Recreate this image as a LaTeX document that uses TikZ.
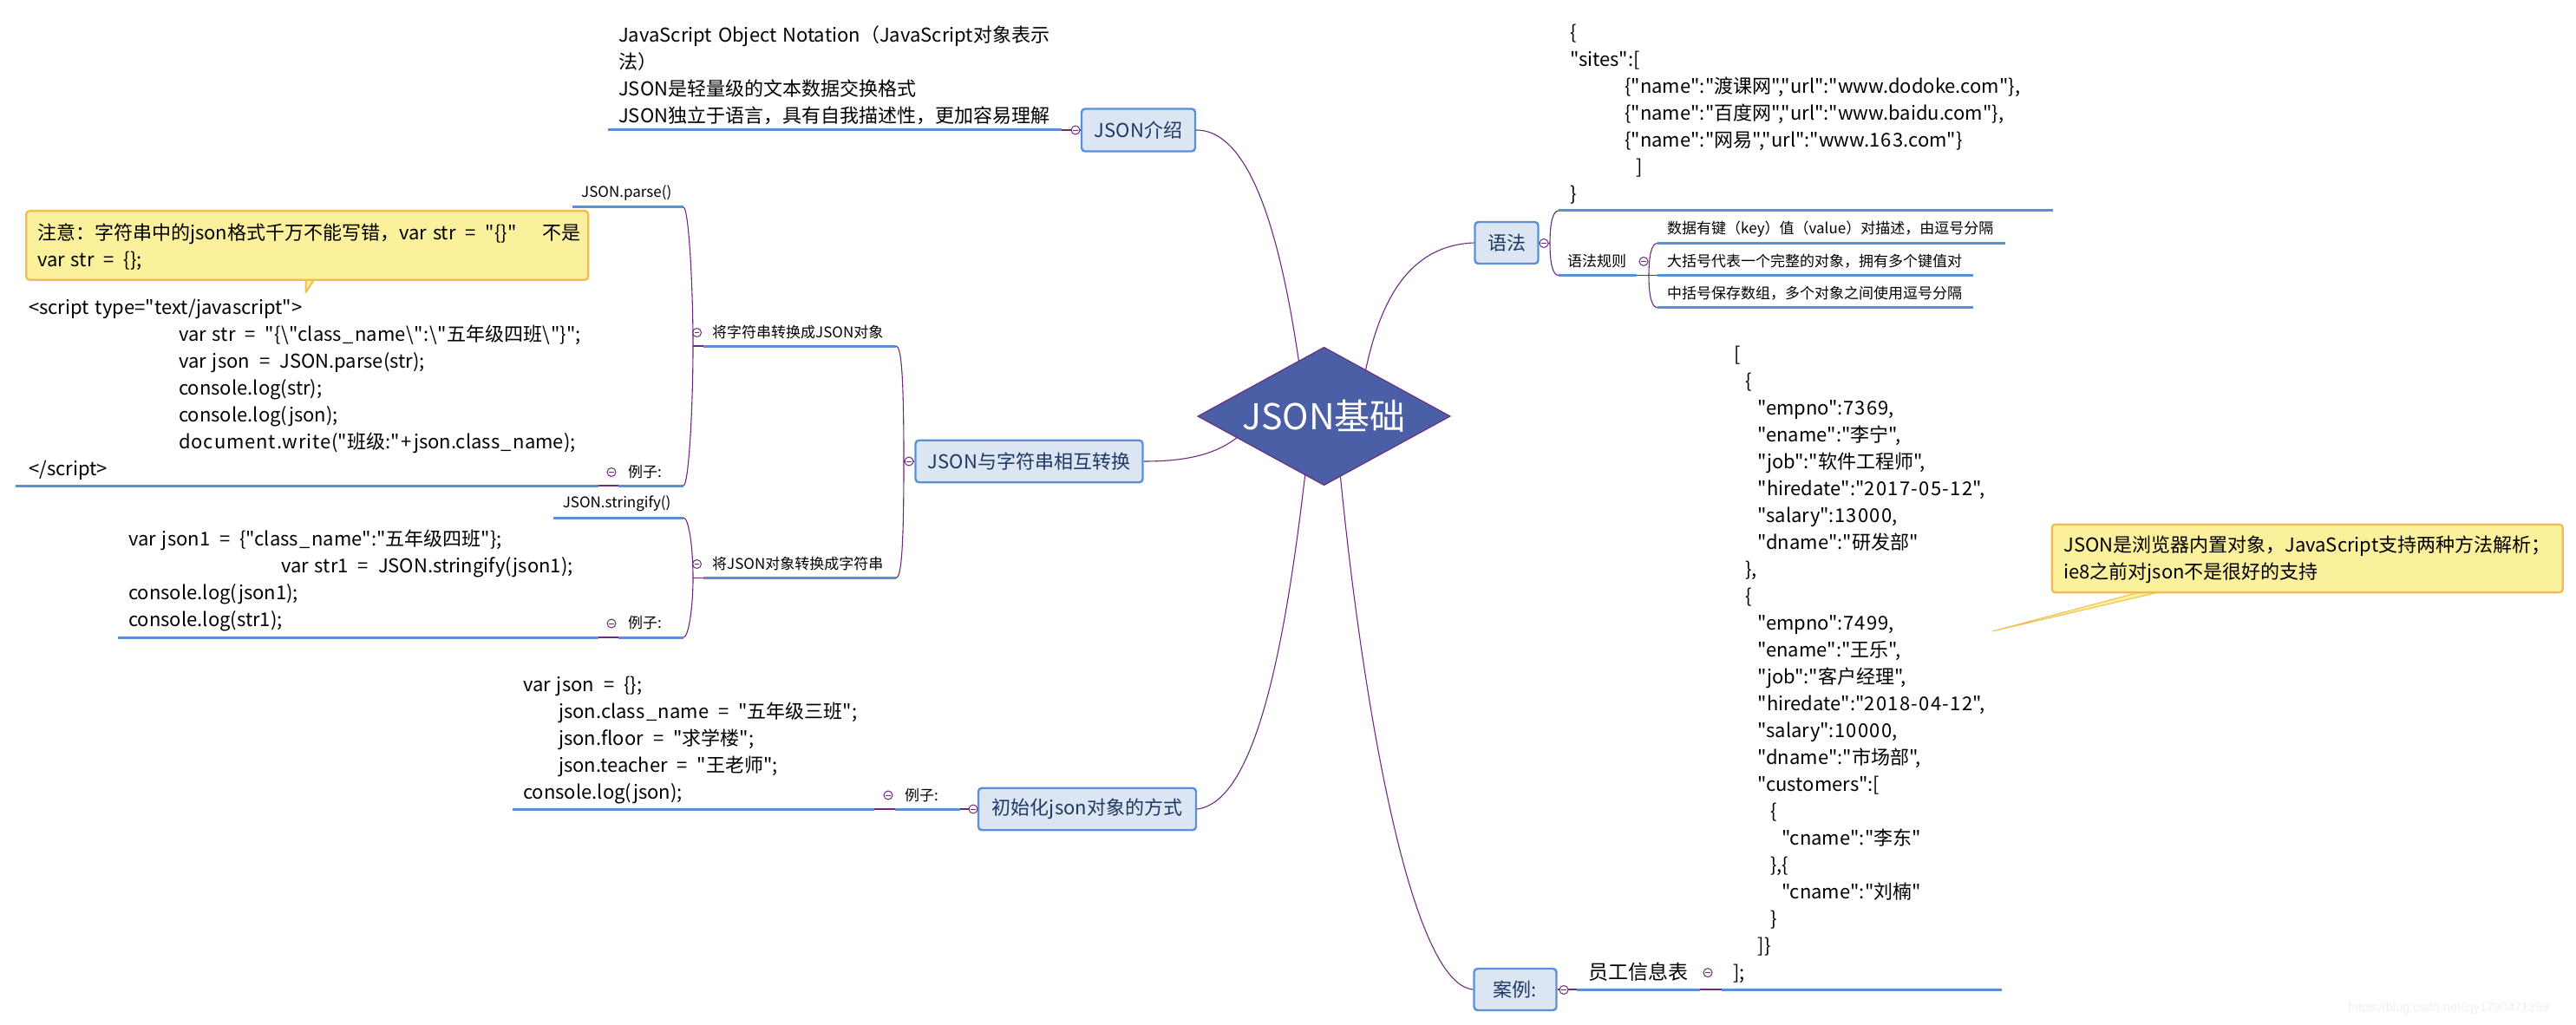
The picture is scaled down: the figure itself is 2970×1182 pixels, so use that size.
\documentclass[tikz,border=0pt]{standalone}
\usepackage{fontspec}
\setmainfont[Ligatures=TeXOff,WordSpace=1.4]{Noto Sans CJK SC}
\newfontfamily\wmfont{Liberation Sans}
\usetikzlibrary{shapes.geometric,calc}
\definecolor{pline}{HTML}{6E2A7E}
\definecolor{bline}{HTML}{5B8FD6}
\definecolor{boxfill}{HTML}{DCE6F3}
\definecolor{boxtext}{HTML}{1F3864}
\definecolor{rootfill}{HTML}{4A5FA5}
\definecolor{notefill}{HTML}{FBF09C}
\definecolor{noteline}{HTML}{F2BC52}
\definecolor{wmcol}{HTML}{F0F0F0}
\newcommand{\bs}{\kern.8pt\textbackslash\kern.8pt}
\newcommand{\us}{\kern1.5pt\_\kern1.5pt}
\newcommand{\eq}{\kern11pt=\kern11pt}
\newcommand{\ind}[1]{\hspace*{#1pt}}
\newcommand{\dg}[1]{{\addfontfeature{LetterSpace=6}#1}}
\newcommand{\lsp}[1]{{\addfontfeature{LetterSpace=4}#1}}
\tikzset{
  x=1pt,y=-1pt,
  branch/.style={draw=pline,line width=1.1pt},
  under/.style={draw=bline,line width=3pt},
  topicbox/.style={rectangle,rounded corners=4pt,draw=bline,fill=boxfill,line width=2.4pt,text=boxtext,inner sep=0pt,font=\fontsize{22}{26}\selectfont},
  codeblock/.style={anchor=north west,inner sep=0pt,align=left,font=\fontsize{22}{31}\selectfont},
  small/.style={anchor=west,inner sep=0pt,font=\fontsize{17}{20}\selectfont},
  notebox/.style={rectangle,rounded corners=4pt,draw=noteline,fill=notefill,line width=2.4pt,anchor=north west,inner sep=0pt},
  notetxt/.style={anchor=north west,inner sep=0pt,align=left},
  minuscirc/.style={circle,draw=pline,fill=white,line width=1pt,minimum size=10pt,inner sep=0pt,
    path picture={\draw[pline,line width=.9pt,shorten >=2.2pt,shorten <=2.2pt] (path picture bounding box.west) -- (path picture bounding box.east);}},
  tailfill/.style={fill=notefill,draw=noteline,line width=2pt,line join=round}
}
\begin{document}
\begin{tikzpicture}
\useasboundingbox (0,0) rectangle (2970,1182);
\fill[white] (0,0) rectangle (2970,1182);

% root
\node[diamond,draw=pline,fill=rootfill,text=white,line width=1.1pt,inner sep=0pt,outer sep=0pt,aspect=1.83,minimum width=291pt,minimum height=159pt,font=\fontsize{41}{46}\selectfont] (root) at (1526.5,480) {JSON基础};

% main topics
\node[topicbox,minimum width=131pt,minimum height=49pt] (intro) at (1312.5,150) {JSON介绍};
\node[topicbox,minimum width=73pt,minimum height=48pt] (syntax) at (1737,280) {语法};
\node[topicbox,minimum width=262pt,minimum height=48.5pt] (conv) at (1186.5,532) {JSON与字符串相互转换};
\node[topicbox,minimum width=251pt,minimum height=48.5pt] (init) at (1253.5,933) {初始化json对象的方式};
\node[topicbox,minimum width=95pt,minimum height=48pt] (case) at (1747,1141) {案例:};

% main curves
\draw[branch] (intro.east) .. controls (1445,150) and (1478,285) .. ($(root.north)!.2!(root.west)$);
\draw[branch] (syntax.west) .. controls (1625,283) and (1592,345) .. ($(root.north)!.33!(root.east)$);
\draw[branch] (conv.east) .. controls (1365,532) and (1400,525) .. ($(root.west)!.31!(root.south)$);
\draw[branch] (init.east) .. controls (1445,925) and (1480,760) .. ($(root.south)!.15!(root.west)$);
\draw[branch] (case.west) .. controls (1625,1135) and (1570,800) .. ($(root.south)!.13!(root.east)$);

% intro
\node[codeblock] (introtxt) at (713,27) {\strut JavaScript Object Notation（JavaScript对象表示\\法）\\JSON是轻量级的文本数据交换格式\\JSON独立于语言，具有自我描述性，更加容易理解};
\coordinate (introA) at (701,150);
\coordinate (introB) at (1224,150);
\draw[under] (introA) -- (introB);
\draw[branch] (introB) -- (intro.west);
\node[minuscirc] (introC) at (1240,150) {};

% syntax
\node[codeblock] (sitestxt) at (1810,24) {\strut\{\\"sites":[\\\ind{63}\{"name":"渡课网","url":"www.dodoke.com"\},\\\ind{63}\{"name":"百度网","url":"www.baidu.com"\},\\\ind{63}\{"name":"网易","url":"www.\dg{163}.com"\}\\\ind{76}]\\\}};
\coordinate (synX) at (1787,280.5);
\coordinate (synT1) at (1797,243);
\coordinate (synT2) at (2367,243);
\coordinate (synR1) at (1797,317.5);
\coordinate (synR2) at (1887,317.5);
\draw[under] (synT1) -- (synT2);
\draw[under] (synR1) -- (synR2);
\draw[branch] (syntax.east) -- (synX);
\draw[branch] (synT1) .. controls (1790,243) and (1787,258) .. (synX) .. controls (1787,303) and (1790,317.5) .. (synR1);
\node[minuscirc] (synC) at (1780,280.5) {};
\node[small] (rules) at (1807,301) {语法规则};
\node[minuscirc] (rulesC) at (1895,301.5) {};
\coordinate (ruleX) at (1901,317.5);
\coordinate (rule1A) at (1911,280.5);
\coordinate (rule1B) at (2312,280.5);
\coordinate (rule2A) at (1911,317.5);
\coordinate (rule2B) at (2274.5,317.5);
\coordinate (rule3A) at (1911,354.7);
\coordinate (rule3B) at (2274.5,354.7);
\draw[under] (rule1A) -- (rule1B);
\draw[under] (rule2A) -- (rule2B);
\draw[under] (rule3A) -- (rule3B);
\draw[branch] (synR2) -- (rule2A);
\draw[branch] (rule1A) .. controls (1904,280.5) and (1901,295) .. (ruleX) .. controls (1901,340) and (1904,354.7) .. (rule3A);
\node[small] (rule1) at (1922,264) {数据有键（key）值（value）对描述，由逗号分隔};
\node[small] (rule2) at (1922,301) {大括号代表一个完整的对象，拥有多个键值对};
\node[small] (rule3) at (1922,338) {中括号保存数组，多个对象之间使用逗号分隔};

% conversion
\coordinate (cX) at (1042,532);
\coordinate (s2jA) at (811,399);
\coordinate (s2jB) at (1033,399);
\coordinate (j2sA) at (811,666.5);
\coordinate (j2sB) at (1033,666.5);
\draw[under] (s2jA) -- (s2jB);
\draw[under] (j2sA) -- (j2sB);
\draw[branch] (conv.west) -- (cX);
\draw[branch] (s2jB) .. controls (1039,399) and (1042,430) .. (cX) .. controls (1042,635) and (1039,666.5) .. (j2sB);
\node[minuscirc] (convC) at (1048,532) {};
\node[small] (s2j) at (821,383) {将字符串转换成JSON对象};
\node[minuscirc] (s2jC) at (803.5,383.5) {};
\node[small] (j2s) at (821,650) {将JSON对象转换成字符串};
\node[minuscirc] (j2sC) at (803.5,650.5) {};

% string to json
\coordinate (aX) at (799,399);
\coordinate (pA) at (659.5,239);
\coordinate (pB) at (788,239);
\coordinate (e1A) at (713,560);
\coordinate (e1B) at (788,560);
\coordinate (c1A) at (18,560);
\coordinate (c1B) at (689.5,560);
\draw[under] (pA) -- (pB);
\draw[under] (e1A) -- (e1B);
\draw[under] (c1A) -- (c1B);
\draw[branch] (c1B) -- (e1A);
\draw[branch] (aX) -- (s2jA);
\draw[branch] (pB) .. controls (794,239) and (799,330) .. (aX) .. controls (799,470) and (794,560) .. (e1B);
\node[small] (parse) at (670,222.5) {JSON.parse()};
\node[small] (ex1) at (724,544) {例子:};
\node[minuscirc] (ex1C) at (705,544.5) {};
\node[codeblock] (code1) at (33,340.5) {\strut <script type="text/javascript">\\\ind{173}var str\eq"\{\bs"class\us name\bs":\bs"五年级四班\bs"\}";\\\ind{173}var json\eq JSON.parse(str);\\\ind{173}console.log(str);\\\ind{173}console.log(json);\\\ind{173}\lsp{document.write(}"班级:"\kern2pt+\kern2pt json.class\us name);\\</script>};

% note 1
\path[tailfill] (352.7,320) -- (352.7,337) -- (363.5,320) -- cycle;
\node[notebox,minimum width=648pt,minimum height=79.5pt] (note1) at (29,242) {};
\node[notetxt,font=\fontsize{22}{31}\selectfont] (note1txt) at (43,254.5) {\strut 注意：字符串中的json格式千万不能写错，var str\eq"\{\}"\hspace{30pt}不是\\var str\eq\{\};};

% json to string
\coordinate (bX) at (799,666.5);
\coordinate (sA) at (638,597);
\coordinate (sB) at (788,597);
\coordinate (e2A) at (713,735);
\coordinate (e2B) at (788,735);
\coordinate (c2A) at (136,735);
\coordinate (c2B) at (689.5,735);
\draw[under] (sA) -- (sB);
\draw[under] (e2A) -- (e2B);
\draw[under] (c2A) -- (c2B);
\draw[branch] (c2B) -- (e2A);
\draw[branch] (bX) -- (j2sA);
\draw[branch] (sB) .. controls (794,597) and (799,630) .. (bX) .. controls (799,700) and (794,735) .. (e2B);
\node[small] (stringify) at (648.6,580.5) {JSON.stringify()};
\node[small] (ex2) at (724,718.5) {例子:};
\node[minuscirc] (ex2C) at (705,719) {};
\node[codeblock] (code2a) at (148,608) {\strut var json1\eq\{"class\us name":"五年级四班"\};};
\node[codeblock] (code2b) at (324,639) {\strut var str1\eq JSON.stringify(json1);};
\node[codeblock] (code2c) at (148,670) {\strut console.log(json1);\\console.log(str1);};

% init
\coordinate (c3A) at (590.5,933);
\coordinate (c3B) at (1008,933);
\coordinate (e3A) at (1032,933);
\coordinate (e3B) at (1107,933);
\draw[under] (c3A) -- (c3B);
\draw[under] (e3A) -- (e3B);
\draw[branch] (c3B) -- (e3A);
\draw[branch] (e3B) -- (init.west);
\node[minuscirc] (initC) at (1122,933) {};
\node[small] (ex3) at (1043,917) {例子:};
\node[minuscirc] (ex3C) at (1024,917) {};
\node[codeblock] (code3) at (603,776) {\strut var json\eq\{\};\\\ind{41}json.class\us name\eq"五年级三班";\\\ind{41}json.floor\eq"求学楼";\\\ind{41}json.teacher\eq"王老师";\\console.log(json);};

% case
\coordinate (k1A) at (1818.4,1141);
\coordinate (k1B) at (1960,1141);
\coordinate (k2A) at (1984.5,1141);
\coordinate (k2B) at (2307.7,1141);
\draw[under] (k1A) -- (k1B);
\draw[under] (k2A) -- (k2B);
\draw[branch] (k1B) -- (k2A);
\draw[branch] (case.east) -- (k1A);
\node[minuscirc] (caseC) at (1803,1141.5) {};
\node[anchor=west,inner sep=0pt,font=\fontsize{23}{28}\selectfont] (staff) at (1831.5,1120.7) {员工信息表};
\node[minuscirc] (staffC) at (1969,1121.7) {};
\node[codeblock] (code4) at (1999,395) {\strut [\\\ind{13}\{\\\ind{27.4}"empno":\dg{7369},\\\ind{27.4}"ename":"李宁",\\\ind{27.4}"job":"软件工程师",\\\ind{27.4}"hiredate":"\dg{2017-05-12}",\\\ind{27.4}"salary":\dg{13000},\\\ind{27.4}"dname":"研发部"\\\ind{13}\},\\\ind{13}\{\\\ind{27.4}"empno":\dg{7499},\\\ind{27.4}"ename":"王乐",\\\ind{27.4}"job":"客户经理",\\\ind{27.4}"hiredate":"\dg{2018-04-12}",\\\ind{27.4}"salary":\dg{10000},\\\ind{27.4}"dname":"市场部",\\\ind{27.4}"customers":[\\\ind{42}\{\\\ind{55}"cname":"李东"\\\ind{42}\},\{\\\ind{55}"cname":"刘楠"\\\ind{42}\}\\\ind{27.4}]\}\\\hspace*{-1pt}];};

% note 2
\path[tailfill,line width=1pt] (2470,682) -- (2297,728) -- (2493,682) -- cycle;
\node[notebox,minimum width=589pt,minimum height=78.5pt] (note2) at (2364.5,603.5) {};
\node[notetxt,font=\fontsize{22}{31}\selectfont] (note2txt) at (2379,615) {\strut JSON是浏览器内置对象，JavaScript支持两种方法解析；\\ie8之前对json不是很好的支持};

% watermark
\node[anchor=west,inner sep=0pt,text=wmcol,font=\wmfont\fontsize{14.5}{18}\selectfont] (wm) at (2707,1163) {https://blog.csdn.net/zjy1790471359};
\end{tikzpicture}
\end{document}
